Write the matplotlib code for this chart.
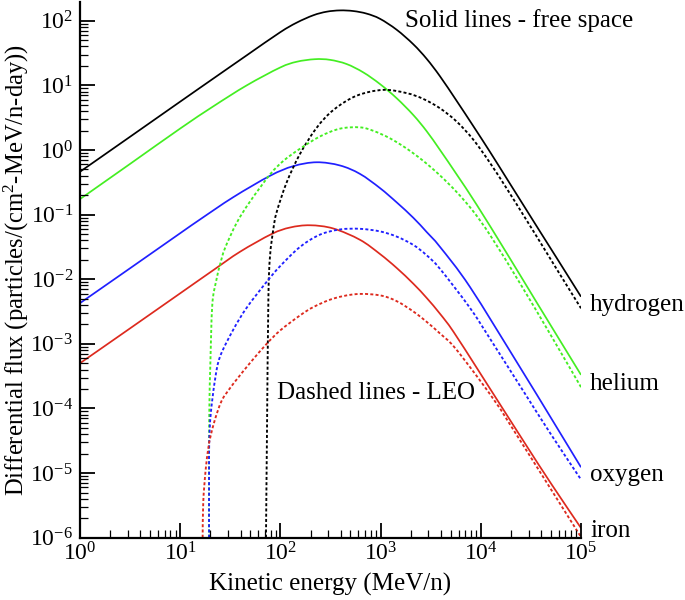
import numpy as np
import matplotlib
matplotlib.use("Agg")
import matplotlib.pyplot as plt
from matplotlib.ticker import LogLocator, NullFormatter
from matplotlib.path import Path
from matplotlib.patches import PathPatch

plt.rcParams['font.family'] = ['Liberation Serif', 'DejaVu Serif']
plt.rcParams['mathtext.fontset'] = 'custom'
plt.rcParams['mathtext.rm'] = 'Liberation Serif'
plt.rcParams['mathtext.it'] = 'Liberation Serif:italic'
plt.rcParams['mathtext.bf'] = 'Liberation Serif:bold'

# ---- data (log10 of kinetic energy in MeV/n, log10 of differential flux) ----
species = ["hydrogen", "helium", "oxygen", "iron"]
colors = ["#000000", "#44ee22", "#2020ff", "#dd2a1e"]

# free space (solid lines)
h_free_logE = [0, 0.5, 0.998, 1.33, 1.664, 1.996, 2.162, 2.329, 2.462, 2.595, 2.728, 2.861, 2.994,
               3.161, 3.327, 3.46, 3.593, 3.759, 3.925, 4.092, 4.258, 4.424, 4.59, 4.757, 5.0]
h_free_logF = [-0.337, 0.205, 0.746, 1.105, 1.465, 1.82, 1.97, 2.085, 2.14, 2.16, 2.15, 2.11, 2.03,
               1.86, 1.635, 1.41, 1.14, 0.76, 0.37, -0.03, -0.44, -0.85, -1.26, -1.67, -2.27]

he_free_logE = [0, 0.5, 0.998, 1.33, 1.664, 1.996, 2.162, 2.345, 2.495, 2.661, 2.828, 2.994,
                3.161, 3.327, 3.46, 3.593, 3.76, 3.96, 4.26, 4.57, 5.0]
he_free_logF = [-0.76, -0.215, 0.33, 0.675, 1.0, 1.275, 1.365, 1.405, 1.395, 1.33, 1.2, 1.02,
                0.8, 0.54, 0.29, 0.0, -0.38, -0.85, -1.6, -2.39, -3.48]

o_free_logE = [0, 0.5, 0.998, 1.198, 1.53, 1.896, 2.129, 2.362, 2.595, 2.794, 2.994, 3.16,
               3.327, 3.46, 3.593, 3.892, 4.39, 4.7, 5.0]
o_free_logF = [-2.37, -1.83, -1.29, -1.075, -0.73, -0.40, -0.25, -0.19, -0.24, -0.37, -0.59, -0.81,
               -1.05, -1.27, -1.50, -2.12, -3.36, -4.145, -4.91]

fe_free_logE = [0, 0.5, 0.998, 1.33, 1.597, 1.913, 2.096, 2.295, 2.528, 2.794, 2.994, 3.16,
                3.327, 3.46, 3.593, 3.726, 4.0, 4.42, 4.7, 5.0]
fe_free_logF = [-3.30, -2.76, -2.22, -1.86, -1.575, -1.30, -1.20, -1.165, -1.215, -1.39, -1.61, -1.825,
                -2.07, -2.29, -2.535, -2.81, -3.47, -4.49, -5.16, -5.85]

# LEO (dashed lines)
h_leo_logE = [1.856, 1.866, 1.88, 1.896, 1.93, 1.963, 2.063, 2.196, 2.36, 2.53, 2.761, 3.027,
              3.26, 3.426, 3.593, 3.759, 3.925, 4.092, 4.26, 4.43, 4.59, 4.76, 5.0]
h_leo_logF = [-6.0, -4.38, -2.3, -1.65, -1.22, -0.96, -0.5, -0.06, 0.34, 0.62, 0.84, 0.93,
              0.88, 0.79, 0.645, 0.44, 0.16, -0.2, -0.6, -1.02, -1.42, -1.85, -2.45]

he_leo_logE = [1.287, 1.288, 1.292, 1.30, 1.32, 1.36, 1.40, 1.447, 1.563, 1.696, 1.896, 2.029,
               2.196, 2.396, 2.595, 2.794, 2.928, 3.094, 3.26, 3.426, 3.593, 3.759, 3.925,
               4.1, 4.39, 4.7, 5.0]
he_leo_logF = [-6.0, -4.6, -3.9, -3.36, -2.4, -2.02, -1.76, -1.52, -1.13, -0.8, -0.38, -0.17,
               0.02, 0.21, 0.33, 0.35, 0.296, 0.18, 0.022, -0.169, -0.394, -0.651, -0.95,
               -1.335, -2.06, -2.87, -3.67]

o_leo_logE = [1.288, 1.288, 1.29, 1.305, 1.347, 1.397, 1.53, 1.664, 1.863, 1.996, 2.196, 2.395,
              2.595, 2.794, 2.994, 3.16, 3.327, 3.46, 3.593, 3.89, 4.1, 4.42, 4.7, 5.0]
o_leo_logF = [-6.0, -5.0, -4.5, -4.08, -3.56, -3.2, -2.78, -2.44, -2.04, -1.8, -1.5, -1.31,
              -1.23, -1.22, -1.26, -1.34, -1.47, -1.63, -1.84, -2.44, -2.94, -3.72, -4.4, -5.10]

fe_leo_logE = [1.224, 1.23, 1.254, 1.28, 1.30, 1.347, 1.414, 1.50, 1.58, 1.70, 1.863, 2.0, 2.196,
               2.33, 2.528, 2.761, 2.994, 3.161, 3.327, 3.46, 3.593, 3.73, 3.96, 4.16, 4.26, 4.59, 5.0]
fe_leo_logF = [-6.0, -5.45, -4.95, -4.62, -4.45, -4.17, -3.88, -3.68, -3.52, -3.29, -3.0, -2.79, -2.56,
               -2.43, -2.30, -2.23, -2.25, -2.34, -2.5, -2.66, -2.84, -3.04, -3.5, -3.93, -4.17, -4.98, -5.99]

free_logE = [h_free_logE, he_free_logE, o_free_logE, fe_free_logE]
free_logF = [h_free_logF, he_free_logF, o_free_logF, fe_free_logF]
leo_logE = [h_leo_logE, he_leo_logE, o_leo_logE, fe_leo_logE]
leo_logF = [h_leo_logF, he_leo_logF, o_leo_logF, fe_leo_logF]


def smooth_curve(logx, logy):
    """Bezier path through every read point (Catmull-Rom tangents in log space)."""
    P = np.column_stack([logx, logy]).astype(float)
    n = len(P)
    verts = [P[0]]
    codes = [Path.MOVETO]
    for i in range(n - 1):
        p0 = P[i - 1] if i > 0 else P[i]
        p1 = P[i]
        p2 = P[i + 1]
        p3 = P[i + 2] if i + 2 < n else P[i + 1]
        verts += [p1 + (p2 - p0) / 6.0, p2 - (p3 - p1) / 6.0, p2]
        codes += [Path.CURVE4] * 3
    return Path(10 ** np.array(verts), codes)


# ---- figure ----
fig = plt.figure(figsize=(6.85, 6.0), dpi=100)
ax = fig.add_axes([80/685, 62.3/600, 501/685, 535.7/600])

ax.set_xscale('log')
ax.set_yscale('log')
ax.set_xlim(1, 1e5)
ax.set_ylim(1e-6, 195)

for c, xe, yf in zip(colors, free_logE, free_logF):
    ax.add_patch(PathPatch(smooth_curve(xe, yf), fill=False, edgecolor=c,
                           lw=1.25, joinstyle='round', capstyle='butt'))
for c, xe, yf in zip(colors, leo_logE, leo_logF):
    ax.add_patch(PathPatch(smooth_curve(xe, yf), fill=False, edgecolor=c,
                           lw=1.35, linestyle=(0, (1.6, 1.2)), capstyle='butt'))

for side in ['top', 'right']:
    ax.spines[side].set_visible(False)
for side in ['left', 'bottom']:
    ax.spines[side].set_linewidth(1.6)

ax.xaxis.set_major_locator(LogLocator(base=10, numticks=20))
ax.yaxis.set_major_locator(LogLocator(base=10, numticks=20))
ax.xaxis.set_minor_locator(LogLocator(base=10, subs=np.arange(2, 10), numticks=20))
ax.yaxis.set_minor_locator(LogLocator(base=10, subs=np.arange(2, 10), numticks=20))
ax.xaxis.set_minor_formatter(NullFormatter())
ax.yaxis.set_minor_formatter(NullFormatter())

ax.tick_params(which='both', direction='in', top=False, right=False, labelsize=17)
ax.tick_params(which='major', length=11, width=1.3)
ax.tick_params(which='minor', length=5.5, width=0.9)
ax.tick_params(axis='y', which='major', pad=5)
ax.tick_params(axis='x', which='major', pad=3.5)

ax.set_xlabel('Kinetic energy (MeV/n)', fontsize=18)
ax.set_ylabel('Differential flux (particles/(cm$^{2}$-MeV/n-day))', fontsize=17.7)
ax.xaxis.set_label_coords(0.5, -0.065)
ax.yaxis.set_label_coords(-0.097, 0.5)

# annotations
ax.text(0.649, 0.954, 'Solid lines - free space', transform=ax.transAxes,
        fontsize=18, ha='left', va='baseline')
ax.text(0.393, 0.259, 'Dashed lines - LEO', transform=ax.transAxes,
        fontsize=18, ha='left', va='baseline')

label_offsets = [-6, -6.5, -5.5, -3]
for name, fs, ls, dy in zip(species, free_logF, leo_logF, label_offsets):
    yv = 10**((fs[-1] + ls[-1]) / 2.0)
    ax.annotate(name, xy=(1e5, yv), xytext=(6.5, dy), textcoords='offset points',
                fontsize=18, ha='left', va='baseline', annotation_clip=False)

fig.savefig('out.png', dpi=100)
